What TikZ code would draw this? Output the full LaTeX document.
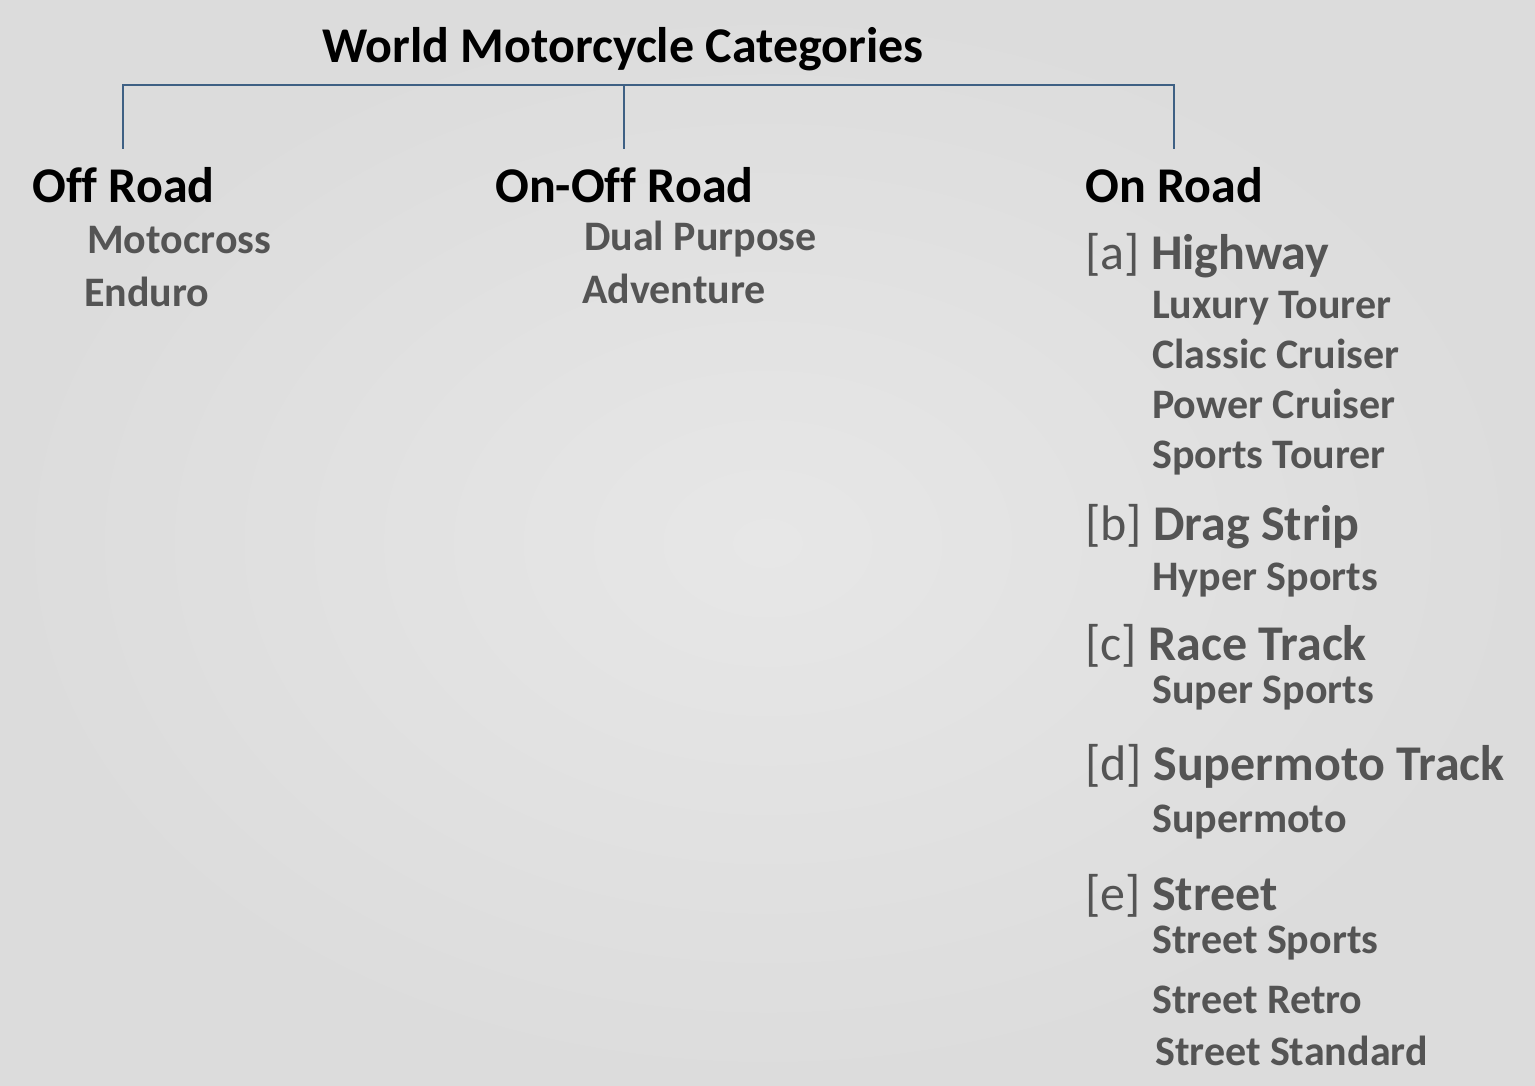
\documentclass[tikz,border=0pt]{standalone}
\usepackage{fontspec}
\setmainfont[Ligatures=NoCommon]{Carlito}

\begin{document}
\begin{tikzpicture}[x=1pt,y=-1pt]

% Define greys and line colour
\definecolor{paper}{RGB}{231, 231, 231}
\definecolor{paperedge}{RGB}{220, 220, 220}
\definecolor{itemgrey}{RGB}{84, 84, 84}
\definecolor{railblue}{RGB}{62, 96, 132}

\tikzset{
  title/.style={anchor=base west, inner sep=0pt, font=\bfseries\fontsize{50}{52}\selectfont, text=black},
  group/.style={anchor=base west, inner sep=0pt, font=\bfseries\fontsize{50}{52}\selectfont, text=black},
  sub/.style={anchor=base west, inner sep=0pt, font=\fontsize{50}{52}\selectfont, text=itemgrey},
  item/.style={anchor=base west, inner sep=0pt, font=\bfseries\fontsize{42}{44}\selectfont, text=itemgrey},
  branch/.style={railblue, line width=2pt}
}

% Background
\shade[inner color=paper, outer color=paperedge] (0,0) rectangle (1535,1086);
\useasboundingbox (0,0) rectangle (1535,1086);

% Title
\node[title] (world) at (322,63) {World Motorcycle Categories};

% Main groups
\node[group] (offroad) at (32,203) {Off Road};
\node[group] (onoff) at (495,203) {On-Off Road};
\node[group] (onroad) at (1085,203) {On Road};

% Tree rail
\coordinate (rail) at (0,85);
\draw[branch] ([yshift=19pt]offroad.north) -- (offroad.north |- rail) -- (onroad.north |- rail) -- ([yshift=19pt]onroad.north);
\draw[branch] ([yshift=19pt]onoff.north) -- (onoff.north |- rail);

% Off Road
\node[item] (motocross) at (87,254) {Motocross};
\node[item] (enduro) at (84,306) {Enduro};

% On-Off Road
\node[item] (dual) at (584,251) {Dual Purpose};
\node[item] (adventure) at (582,304) {Adventure};

% On Road
\node[sub] (highway) at (1085,270) {[a] \textbf{Highway}};
\node[item] (luxury) at (1152,319) {Luxury Tourer};
\node[item] (classic) at (1152,368) {Classic Cruiser};
\node[item] (power) at (1152,418) {Power Cruiser};
\node[item] (sportstour) at (1152,468) {Sports Tourer};

\node[sub] (drag) at (1085,540) {[b] \textbf{Drag Strip}};
\node[item] (hyper) at (1152,590) {Hyper Sports};

\node[sub] (race) at (1085,660) {[c] \textbf{Race Track}};
\node[item] (super) at (1152,703) {Super Sports};

\node[sub] (smtrack) at (1085,780) {[d] \textbf{Supermoto Track}};
\node[item] (supermoto) at (1152,832) {Supermoto};

\node[sub] (street) at (1085,910) {[e] \textbf{Street}};
\node[item] (streetsports) at (1152,953) {Street Sports};
\node[item] (retro) at (1152,1013) {Street Retro};
\node[item] (standard) at (1155,1065) {Street Standard};

\end{tikzpicture}
\end{document}
